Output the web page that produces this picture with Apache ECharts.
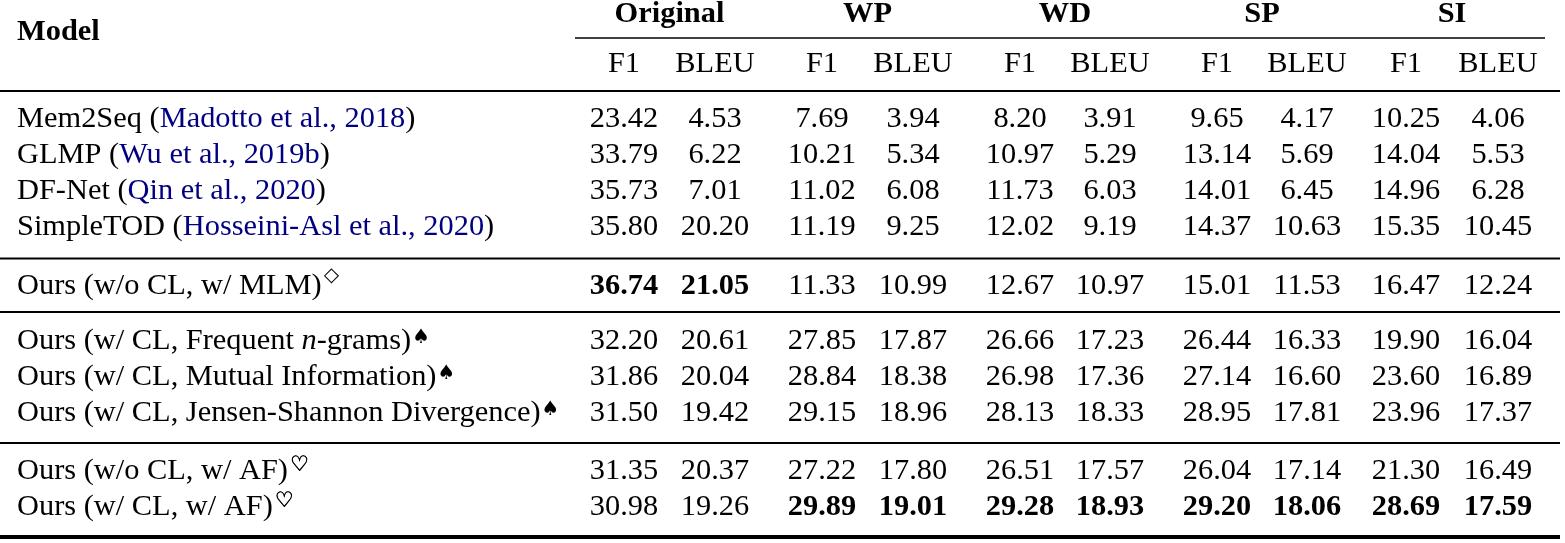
<!DOCTYPE html>
<html>
<head>
<meta charset="utf-8">
<script src="https://cdn.jsdelivr.net/npm/echarts@6/dist/echarts.min.js"></script>
<style>
html,body{margin:0;padding:0;background:#fff;}
#chart{width:1565px;height:543px;}
</style>
</head>
<body>
<div id="chart"></div>
<script>
// ---------------- DATA ----------------
const groups = ['Original', 'WP', 'WD', 'SP', 'SI'];
const metrics = ['F1', 'BLEU'];
const headerModel = 'Model';
const modelNames = [
  'Mem2Seq', 'GLMP', 'DF-Net', 'SimpleTOD',
  'Ours (w/o CL, w/ MLM)',
  'Ours (w/ CL, Frequent n-grams)',
  'Ours (w/ CL, Mutual Information)',
  'Ours (w/ CL, Jensen-Shannon Divergence)',
  'Ours (w/o CL, w/ AF)',
  'Ours (w/ CL, w/ AF)'
];
const citations = [
  'Madotto et al., 2018', 'Wu et al., 2019b', 'Qin et al., 2020', 'Hosseini-Asl et al., 2020',
  '', '', '', '', '', ''
];
const marks = ['', '', '', '', 'diamond', 'spade', 'spade', 'spade', 'heart', 'heart'];

const originalF1   = [23.42, 33.79, 35.73, 35.80, 36.74, 32.20, 31.86, 31.50, 31.35, 30.98];
const originalBLEU = [4.53, 6.22, 7.01, 20.20, 21.05, 20.61, 20.04, 19.42, 20.37, 19.26];
const wpF1   = [7.69, 10.21, 11.02, 11.19, 11.33, 27.85, 28.84, 29.15, 27.22, 29.89];
const wpBLEU = [3.94, 5.34, 6.08, 9.25, 10.99, 17.87, 18.38, 18.96, 17.80, 19.01];
const wdF1   = [8.20, 10.97, 11.73, 12.02, 12.67, 26.66, 26.98, 28.13, 26.51, 29.28];
const wdBLEU = [3.91, 5.29, 6.03, 9.19, 10.97, 17.23, 17.36, 18.33, 17.57, 18.93];
const spF1   = [9.65, 13.14, 14.01, 14.37, 15.01, 26.44, 27.14, 28.95, 26.04, 29.20];
const spBLEU = [4.17, 5.69, 6.45, 10.63, 11.53, 16.33, 16.60, 17.81, 17.14, 18.06];
const siF1   = [10.25, 14.04, 14.96, 15.35, 16.47, 19.90, 23.60, 23.96, 21.30, 28.69];
const siBLEU = [4.06, 5.53, 6.28, 10.45, 12.24, 16.04, 16.89, 17.37, 16.49, 17.59];
const columns = [originalF1, originalBLEU, wpF1, wpBLEU, wdF1, wdBLEU, spF1, spBLEU, siF1, siBLEU];

// ---------------- LAYOUT (pixel space mapped 1:1 by the axes) ----------------
const W = 1565, H = 543;
const COL_X = [624, 715, 822, 913, 1020, 1110, 1217, 1307, 1406, 1498];
const ROW_Y = [119, 155, 191, 227, 286, 341, 377, 413, 471, 507];
const MODEL_X = 17;
const HEAD_GROUP_Y = 14, HEAD_MODEL_Y = 32, HEAD_METRIC_Y = 64.5;
const RULES = [
  {x1: 575, x2: 1545, y: 38, w: 1.3},
  {x1: 0, x2: 1560, y: 91, w: 2},
  {x1: 0, x2: 1560, y: 258.5, w: 2},
  {x1: 0, x2: 1560, y: 312, w: 2},
  {x1: 0, x2: 1560, y: 443, w: 2},
  {x1: 0, x2: 1560, y: 537, w: 4}
];
const FONT = '"Liberation Serif", "Times New Roman", Times, serif';
const FS = 30.4;
const NAVY = '#000080';

// ---------------- BUILD ----------------
// superscript marks: vertical raise = padding-bottom / 2 (token lineHeight kept below the row's)
const rich = {
  t: {fontFamily: FONT, fontSize: FS, color: '#000', lineHeight: 36},
  c: {fontFamily: FONT, fontSize: FS, color: NAVY, lineHeight: 36},
  it: {fontFamily: FONT, fontSize: FS, fontStyle: 'italic', color: '#000', lineHeight: 36},
  diamond: {fontFamily: '"DejaVu Sans"', fontSize: 20, color: '#000', lineHeight: 20, padding: [0, 0, 21, 2]},
  spade: {fontFamily: '"DejaVu Sans"', fontSize: 20, color: '#000', lineHeight: 20, padding: [0, 0, 6, 1]},
  heart: {fontFamily: '"DejaVu Sans"', fontSize: 21, color: '#000', lineHeight: 20, padding: [0, 0, 10, 2],
          textBorderColor: '#000', textBorderWidth: 0.6}
};
const markChar = {diamond: '\u25C7', spade: '\u2660', heart: '\u2661'};

function modelRich(i) {
  const name = modelNames[i].replace(/ n-/, ' }{it|n}{t|-');
  let s = '{t|' + name + '}';
  if (citations[i]) s = '{t|' + name + ' (}{c|' + citations[i] + '}{t|)}';
  if (marks[i]) s += '{' + marks[i] + '|' + markChar[marks[i]] + '}';
  return s;
}

const textData = [];
// group headers
groups.forEach((g, gi) => {
  textData.push({value: [(COL_X[gi * 2] + COL_X[gi * 2 + 1]) / 2, HEAD_GROUP_Y],
    label: {formatter: g, fontWeight: 'bold', position: 'inside'}});
});
// metric headers
COL_X.forEach((x, ci) => {
  textData.push({value: [x, HEAD_METRIC_Y], label: {formatter: metrics[ci % 2], position: 'inside'}});
});
// model header
textData.push({value: [MODEL_X, HEAD_MODEL_Y], label: {formatter: headerModel, fontWeight: 'bold', position: 'right', distance: 0}});
// model names
modelNames.forEach((m, ri) => {
  textData.push({value: [MODEL_X, ROW_Y[ri]], label: {formatter: modelRich(ri), rich: rich, position: 'right', distance: 0}});
});
// numeric cells
columns.forEach((col, ci) => {
  const best = Math.max.apply(null, col);
  col.forEach((v, ri) => {
    textData.push({value: [COL_X[ci], ROW_Y[ri]],
      label: {formatter: v.toFixed(2), fontWeight: v === best ? 'bold' : 'normal', position: 'inside'}});
  });
});

const ruleSeries = RULES.map(r => ({
  type: 'line', silent: true, showSymbol: false, symbol: 'none', animation: false,
  data: [[r.x1, r.y], [r.x2, r.y]],
  lineStyle: {color: '#000', width: r.w, cap: 'butt', opacity: 1},
  z: 1
}));

const chart = echarts.init(document.getElementById('chart'), null, {renderer: 'canvas'});
chart.setOption({
  animation: false,
  backgroundColor: '#fff',
  grid: {left: 0, right: 0, top: 0, bottom: 0, containLabel: false},
  xAxis: {type: 'value', min: 0, max: W, show: false},
  yAxis: {type: 'value', min: 0, max: H, inverse: true, show: false},
  tooltip: {show: false},
  series: [
    ...ruleSeries,
    {
      type: 'scatter', silent: true, symbolSize: 0, z: 2,
      itemStyle: {opacity: 1, color: '#000'},
      label: {show: true, fontFamily: FONT, fontSize: FS, color: '#000', opacity: 1},
      emphasis: {disabled: true},
      data: textData
    }
  ]
});
</script>
</body>
</html>
